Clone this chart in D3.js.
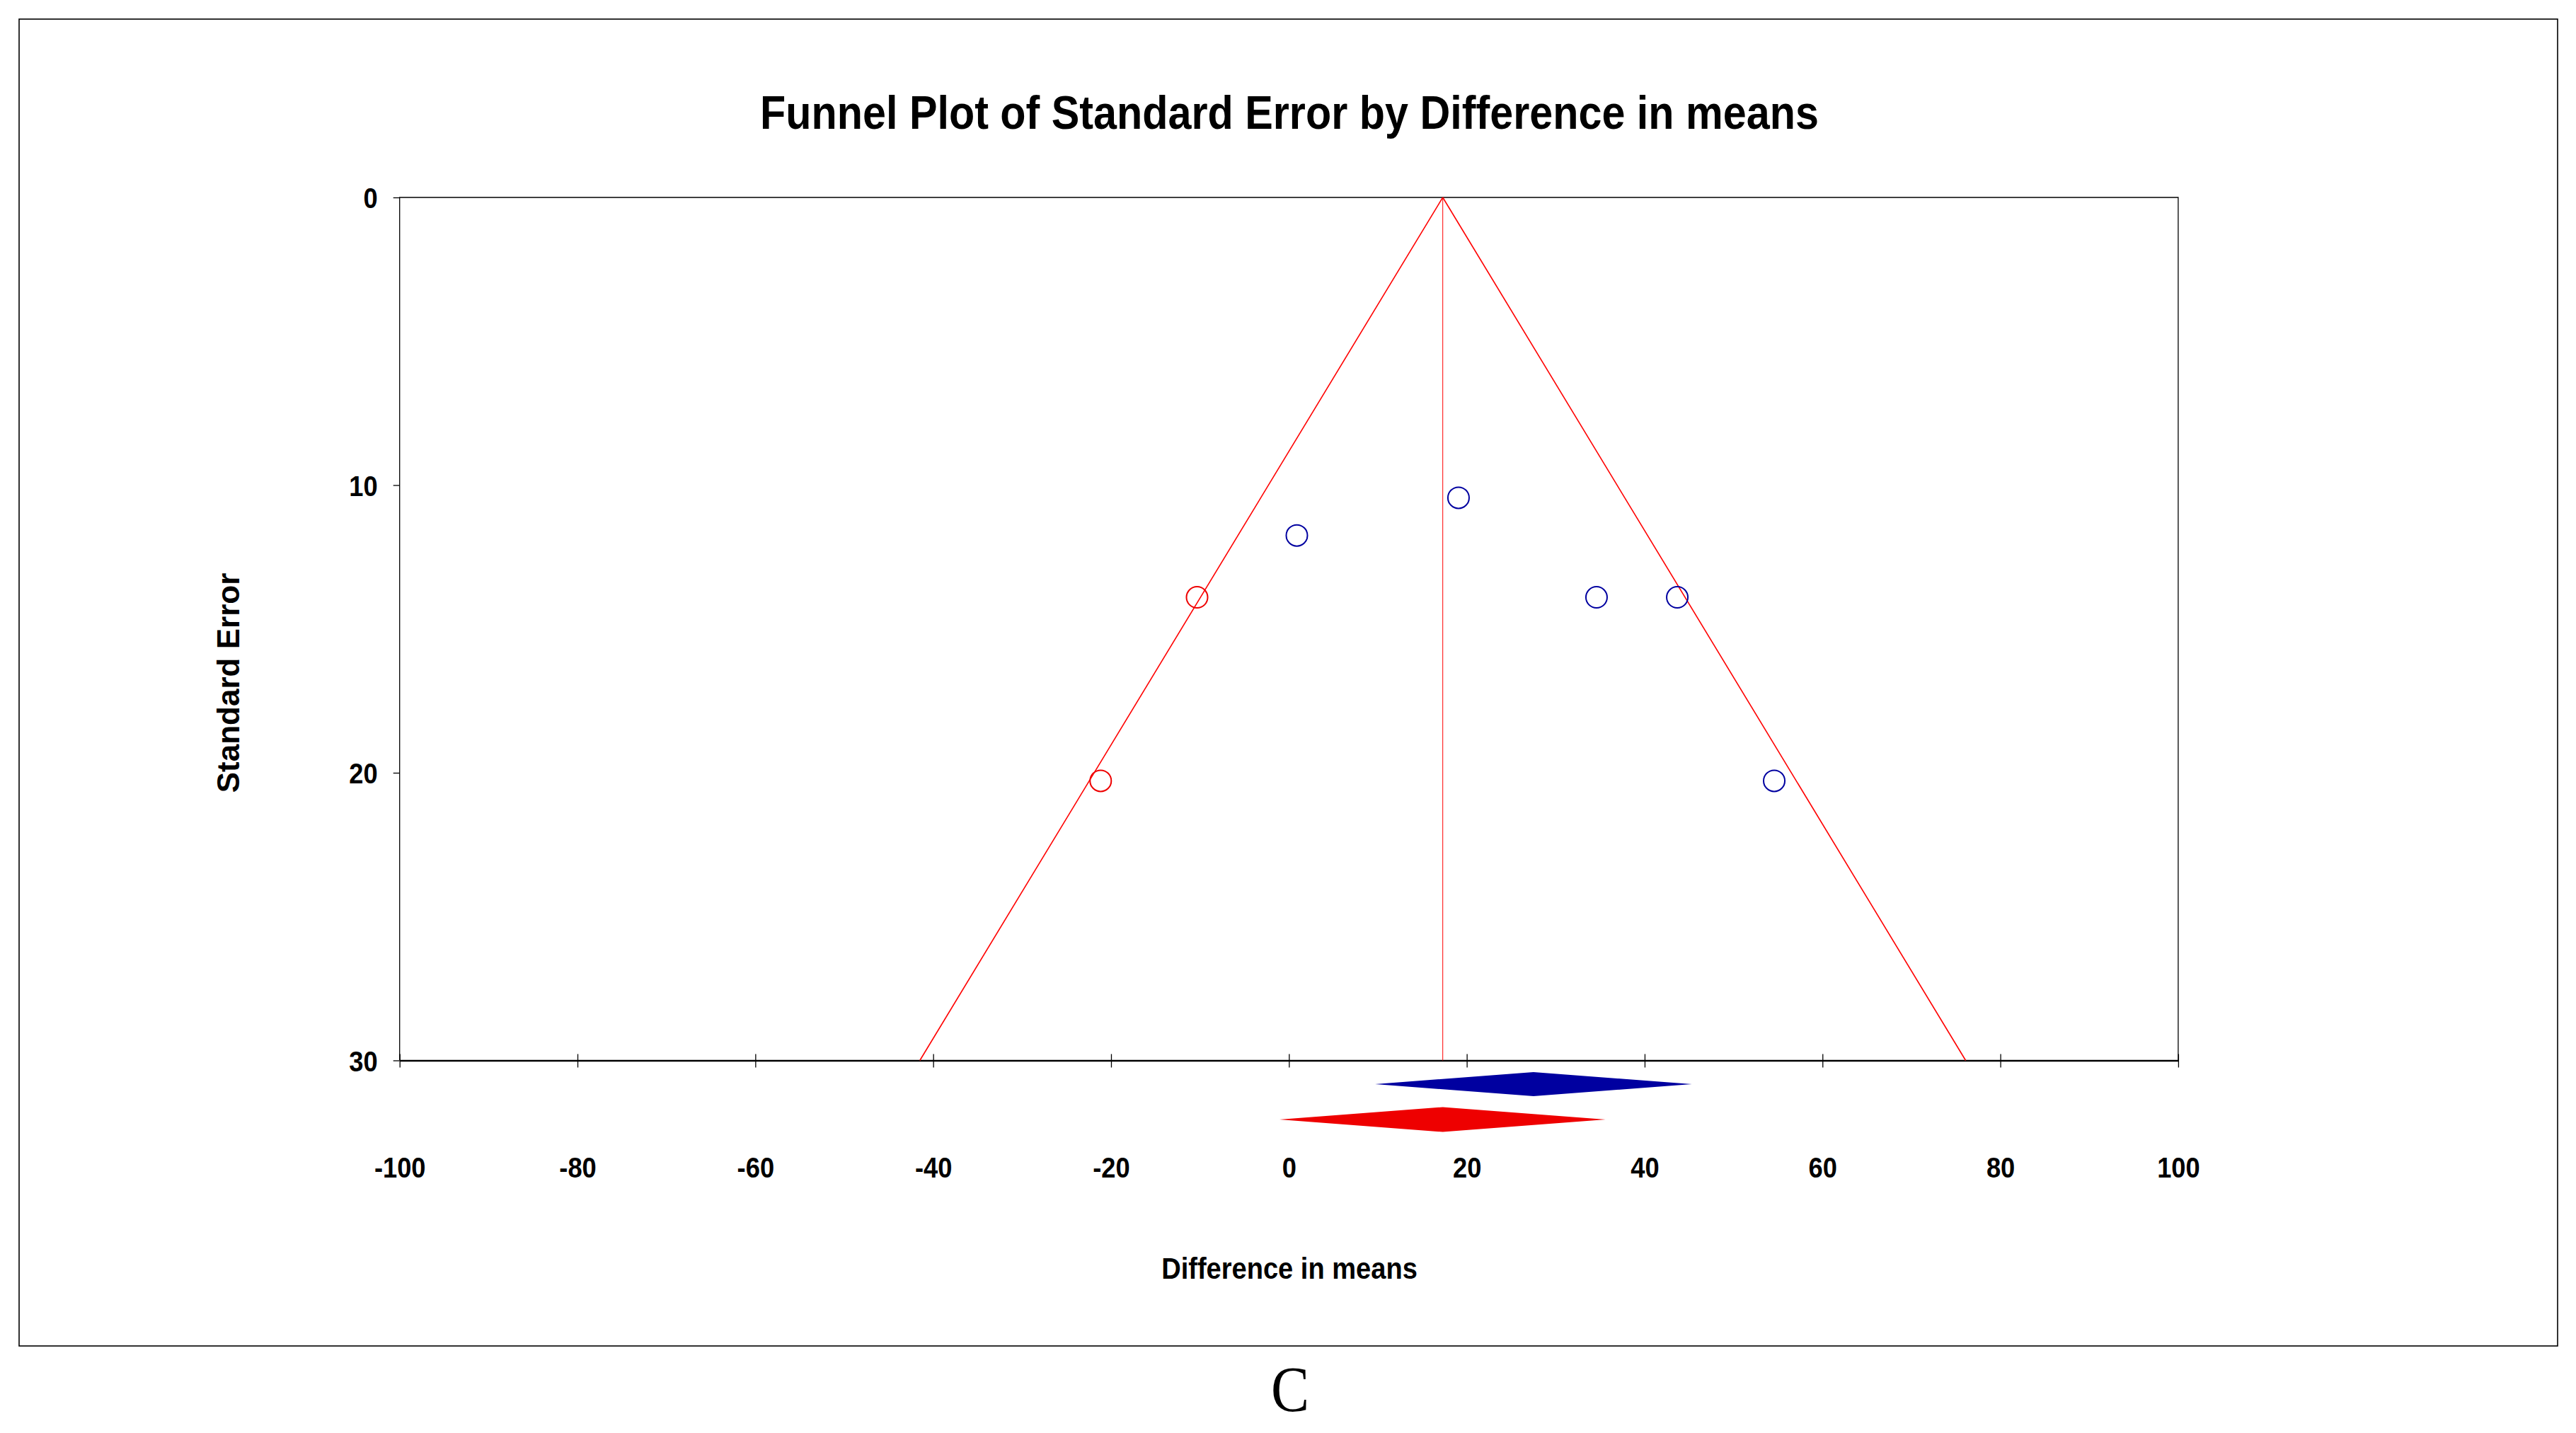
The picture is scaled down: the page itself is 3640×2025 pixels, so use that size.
<!DOCTYPE html>
<html>
<head>
<meta charset="utf-8">
<script src="https://cdn.jsdelivr.net/npm/d3@7"></script>
<style>
  html, body { margin: 0; padding: 0; background: #ffffff; }
  svg { display: block; }
</style>
</head>
<body>
<svg id="chart" width="3640" height="2025"></svg>
<script>
// ---------------- data ----------------
const titleText = "Funnel Plot of Standard Error by Difference in means";
const xLabelText = "Difference in means";
const yLabelText = "Standard Error";
const panelLabel = "C";

const xTicks = [-100, -80, -60, -40, -20, 0, 20, 40, 60, 80, 100];
const yTicks = [0, 10, 20, 30];

// observed studies (blue)
const observedEffect = [19.07, 0.89, 34.59, 43.67, 54.57];
const observedSE     = [10.44, 11.75, 13.90, 13.90, 20.28];
// imputed studies (red)
const imputedEffect  = [-10.33, -21.17];
const imputedSE      = [13.90, 20.28];

// pooled estimates: [point, lower, upper]
const observedPooled = [27.5, 9.7, 45.3];
const adjustedPooled = [17.3, -1.06, 35.6];

// funnel (pseudo 95% limits) read at SE = 0 and SE = 30
const funnelSE    = [0, 30];
const funnelLower = [17.3, -41.5];
const funnelUpper = [17.3, 76.1];

// ---------------- layout ----------------
const W = 3640, H = 2025;
const plot = { left: 564.7, right: 3077.9, top: 279, bottom: 1498.5 };
const BLUE = "#0000a0", RED = "#ee0000";
const SANS = "'Liberation Sans', Arial, Helvetica, sans-serif";
const SERIF = "'Liberation Serif', 'Times New Roman', serif";
const SQUEEZE = 0.885;

const svg = d3.select("#chart");
svg.append("rect").attr("x", 0).attr("y", 0).attr("width", W).attr("height", H).attr("fill", "#fff");

const x = d3.scaleLinear().domain([-100, 100]).range([plot.left, plot.right]);
const y = d3.scaleLinear().domain([0, 30]).range([plot.top, plot.bottom]);

function squeeze(sel, k) {
  sel.each(function () {
    const len = this.getComputedTextLength();
    d3.select(this).attr("textLength", len * k).attr("lengthAdjust", "spacingAndGlyphs");
  });
  return sel;
}

// outer frame
svg.append("rect")
  .attr("x", 27).attr("y", 27).attr("width", 3614 - 27).attr("height", 1902 - 27)
  .attr("fill", "none").attr("stroke", "#000").attr("stroke-width", 1.6);

// plot frame (top, left, right)
svg.append("path")
  .attr("d", `M${x(-100)},${y(30)}V${y(0)}H${x(100)}V${y(30)}`)
  .attr("fill", "none").attr("stroke", "#000").attr("stroke-width", 1.3);

// x axis
const xAxis = d3.axisBottom(x).tickValues(xTicks).tickSize(0).tickFormat("");
const gx = svg.append("g").attr("transform", `translate(0,${y(30)})`).call(xAxis);
gx.select(".domain").attr("stroke", "#000").attr("stroke-width", 2.6);
gx.selectAll(".tick").append("line")
  .attr("y1", -9).attr("y2", 10).attr("stroke", "#000").attr("stroke-width", 1.3);
gx.selectAll(".tick").append("text")
  .attr("y", 165).attr("fill", "#000")
  .attr("font-family", SANS).attr("font-weight", "bold").attr("font-size", 41)
  .attr("text-anchor", "middle")
  .text(d => d)
  .call(squeeze, SQUEEZE);

// y axis
const yAxis = d3.axisLeft(y).tickValues(yTicks).tickSize(0).tickFormat("");
const gy = svg.append("g").attr("transform", `translate(${x(-100)},0)`).call(yAxis);
gy.select(".domain").remove();
gy.selectAll(".tick").append("line")
  .attr("x1", -9).attr("x2", 0).attr("stroke", "#000").attr("stroke-width", 1.3);
gy.selectAll(".tick").append("text")
  .attr("x", -31).attr("dy", "0.36em").attr("fill", "#000")
  .attr("font-family", SANS).attr("font-weight", "bold").attr("font-size", 41)
  .attr("text-anchor", "end")
  .text(d => d)
  .call(squeeze, SQUEEZE);

// funnel
const funnel = funnelSE.map((s, i) => ({ se: s, lo: funnelLower[i], hi: funnelUpper[i] }));
const lineLo = d3.line().x(d => x(d.lo)).y(d => y(d.se));
const lineHi = d3.line().x(d => x(d.hi)).y(d => y(d.se));
svg.append("path").datum(funnel).attr("d", lineLo)
  .attr("fill", "none").attr("stroke", "#ff0000").attr("stroke-width", 1.6);
svg.append("path").datum(funnel).attr("d", lineHi)
  .attr("fill", "none").attr("stroke", "#ff0000").attr("stroke-width", 1.6);
svg.append("line")
  .attr("x1", x(adjustedPooled[0])).attr("x2", x(adjustedPooled[0]))
  .attr("y1", y(0)).attr("y2", y(30))
  .attr("stroke", "#ff0000").attr("stroke-width", 1);

// points
const observed = observedEffect.map((e, i) => ({ e, se: observedSE[i] }));
const imputed = imputedEffect.map((e, i) => ({ e, se: imputedSE[i] }));
svg.append("g").selectAll("circle").data(observed).join("circle")
  .attr("cx", d => x(d.e)).attr("cy", d => y(d.se)).attr("r", 15)
  .attr("fill", "none").attr("stroke", BLUE).attr("stroke-width", 2);
svg.append("g").selectAll("circle").data(imputed).join("circle")
  .attr("cx", d => x(d.e)).attr("cy", d => y(d.se)).attr("r", 15)
  .attr("fill", "none").attr("stroke", RED).attr("stroke-width", 2);

// pooled diamonds (drawn below the axis)
function diamond(p, cy, hh) {
  return `M${x(p[1])},${cy}L${x(p[0])},${cy - hh}L${x(p[2])},${cy}L${x(p[0])},${cy + hh}Z`;
}
svg.append("path").attr("d", diamond(observedPooled, y(30) + 33.5, 17)).attr("fill", BLUE);
svg.append("path").attr("d", diamond(adjustedPooled, y(30) + 83.5, 17.5)).attr("fill", RED);

// title
svg.append("text")
  .attr("x", 1822).attr("y", 182).attr("text-anchor", "middle")
  .attr("font-family", SANS).attr("font-weight", "bold").attr("font-size", 67)
  .attr("fill", "#000")
  .text(titleText)
  .call(squeeze, SQUEEZE);

// x label
svg.append("text")
  .attr("x", 1822).attr("y", 1807).attr("text-anchor", "middle")
  .attr("font-family", SANS).attr("font-weight", "bold").attr("font-size", 43)
  .attr("fill", "#000")
  .text(xLabelText)
  .call(squeeze, SQUEEZE);

// y label
svg.append("text")
  .attr("transform", "translate(338,965) rotate(-90)")
  .attr("text-anchor", "middle")
  .attr("font-family", SANS).attr("font-weight", "bold").attr("font-size", 44)
  .attr("fill", "#000")
  .text(yLabelText);

// panel label
svg.append("text")
  .attr("x", 1823).attr("y", 1994).attr("text-anchor", "middle")
  .attr("font-family", SERIF).attr("font-size", 90)
  .attr("fill", "#000")
  .text(panelLabel)
  .call(squeeze, 0.9);
</script>
</body>
</html>
